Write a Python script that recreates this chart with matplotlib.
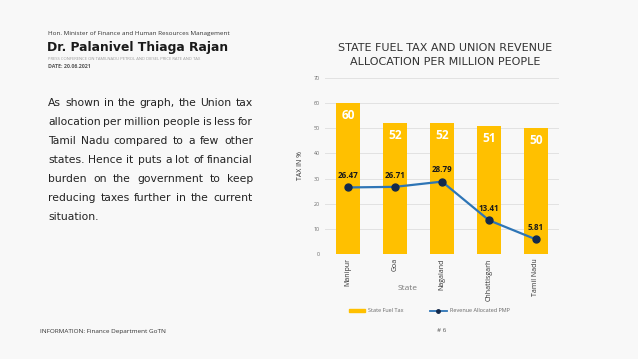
import matplotlib
matplotlib.use("Agg")
import matplotlib.pyplot as plt
from matplotlib.patches import Patch
from matplotlib.lines import Line2D

# ---------------------------------------------------------------------------
# Donnees
# ---------------------------------------------------------------------------
states = ["Manipur", "Goa", "Nagaland", "Chhattisgarh", "Tamil Nadu"]
fuel_tax = [60, 52, 52, 51, 50]
revenue_pmp = [26.47, 26.71, 28.79, 13.41, 5.81]
y_ticks = [0, 10, 20, 30, 40, 50, 60, 70]

paragraph = [
    "As shown in the graph, the Union tax",
    "allocation per million people is less for",
    "Tamil Nadu compared to a few other",
    "states. Hence it puts a lot of financial",
    "burden on the government to keep",
    "reducing taxes further in the current",
    "situation.",
]

BAR = "#FFC000"
LINE = "#2E75B6"
MARK = "#13294B"
FONT = ["Open Sans", "DejaVu Sans"]
WIDE = ["DejaVu Sans"]
plt.rcParams["font.family"] = FONT

W, H = 638, 359
fig = plt.figure(figsize=(W / 100, H / 100), dpi=100, facecolor="#f8f8f8")


def fx(px):
    return px / W


def fy(py):
    return 1 - py / H


# ---------------------------------------------------------------------------
# Bloc de gauche
# ---------------------------------------------------------------------------
fig.text(fx(48), fy(33), "Hon. Minister of Finance and Human Resources Management",
         fontsize=4.6, color="#333333", va="center")
fig.text(fx(47), fy(47), "Dr. Palanivel Thiaga Rajan", fontsize=8.9,
         fontweight="bold", color="#1a1a1a", va="center", family=WIDE)
fig.text(fx(48), fy(59), "PRESS CONFERENCE ON TAMILNADU PETROL AND DIESEL PRICE RATE AND TAX",
         fontsize=3.0, color="#9a9a9a", va="center")
fig.text(fx(48), fy(67), "DATE: 20.06.2021", fontsize=3.8, fontweight="bold",
         color="#555555", va="center")

# Paragraphe justifie : on place chaque mot et on repartit l'espace restant
renderer = fig.canvas.get_renderer()
left_px, right_px = 48, 253
PSIZE = 7.75
for i, line in enumerate(paragraph):
    y = fy(106 + i * 19)
    words = line.split()
    if i == len(paragraph) - 1:
        fig.text(fx(left_px), y, line, fontsize=PSIZE, color="#222222",
                 va="baseline", family=WIDE)
        continue
    items = [fig.text(0, y, w, fontsize=PSIZE, color="#222222", va="baseline",
                      family=WIDE) for w in words]
    widths = [t.get_window_extent(renderer).width for t in items]
    gap = (right_px - left_px - sum(widths)) / (len(words) - 1)
    x = left_px
    for t, wd in zip(items, widths):
        t.set_x(fx(x))
        x += wd + gap

fig.text(fx(40), fy(331), "INFORMATION: Finance Department GoTN", fontsize=4.6,
         color="#333333", va="center")
fig.text(fx(437), fy(331), "# 6", fontsize=4.6, color="#555555", va="center")

# ---------------------------------------------------------------------------
# Graphique
# ---------------------------------------------------------------------------
ax = fig.add_axes([fx(325), fy(254), fx(559) - fx(325), fy(78) - fy(254)])
ax.set_facecolor("none")
x = range(len(states))
ax.bar(x, fuel_tax, width=0.53, color=BAR, zorder=2)
ax.plot(x, revenue_pmp, color=LINE, lw=1.6, marker="o", ms=5,
        mfc=MARK, mec=MARK, zorder=3)

for xi, v in zip(x, fuel_tax):
    ax.text(xi, v - 4.9, f"{v}", ha="center", va="center", color="white",
            fontsize=8.6, fontweight="bold", zorder=4)
for xi, v in zip(x, revenue_pmp):
    ax.text(xi, v + 4.7, f"{v:.2f}", ha="center", va="center", color="#1a1a1a",
            fontsize=5.8, fontweight="bold", zorder=4)

ax.set_xlim(-0.49, 4.49)
ax.set_ylim(0, 70)
ax.set_yticks(y_ticks)
ax.tick_params(axis="y", length=0, labelsize=3.8, labelcolor="#666666", pad=4)
ax.set_xticks(list(x))
ax.set_xticklabels(states, rotation=90, fontsize=5, color="#333333")
ax.tick_params(axis="x", length=0, pad=3)
ax.grid(axis="y", color="#e2e2e2", lw=0.7, zorder=0)
for s in ax.spines.values():
    s.set_visible(False)
ax.set_ylabel("TAX IN %", fontsize=5, color="#333333", labelpad=7)
fig.text(fx(408), fy(289), "State", fontsize=6, color="#777777", ha="center", va="center")

fig.text(fx(445), fy(48), "STATE FUEL TAX AND UNION REVENUE", fontsize=8.0,
         color="#333333", ha="center", va="center", family=WIDE)
fig.text(fx(445), fy(62), "ALLOCATION PER MILLION PEOPLE", fontsize=8.0,
         color="#333333", ha="center", va="center", family=WIDE)

handles = [Patch(color=BAR, label="State Fuel Tax"),
           Line2D([0], [0], color=LINE, lw=1.3, marker="o", ms=2.5, mfc=MARK,
                  mec=MARK, label="Revenue Allocated PMP")]
fig.legend(handles=handles, loc="center", bbox_to_anchor=(fx(429), fy(311)),
           ncol=2, frameon=False, fontsize=4.0, handlelength=3.0, handleheight=0.6,
           handletextpad=0.5, columnspacing=4.8, labelcolor="#666666")

fig.savefig("out.png", dpi=100, facecolor=fig.get_facecolor())
